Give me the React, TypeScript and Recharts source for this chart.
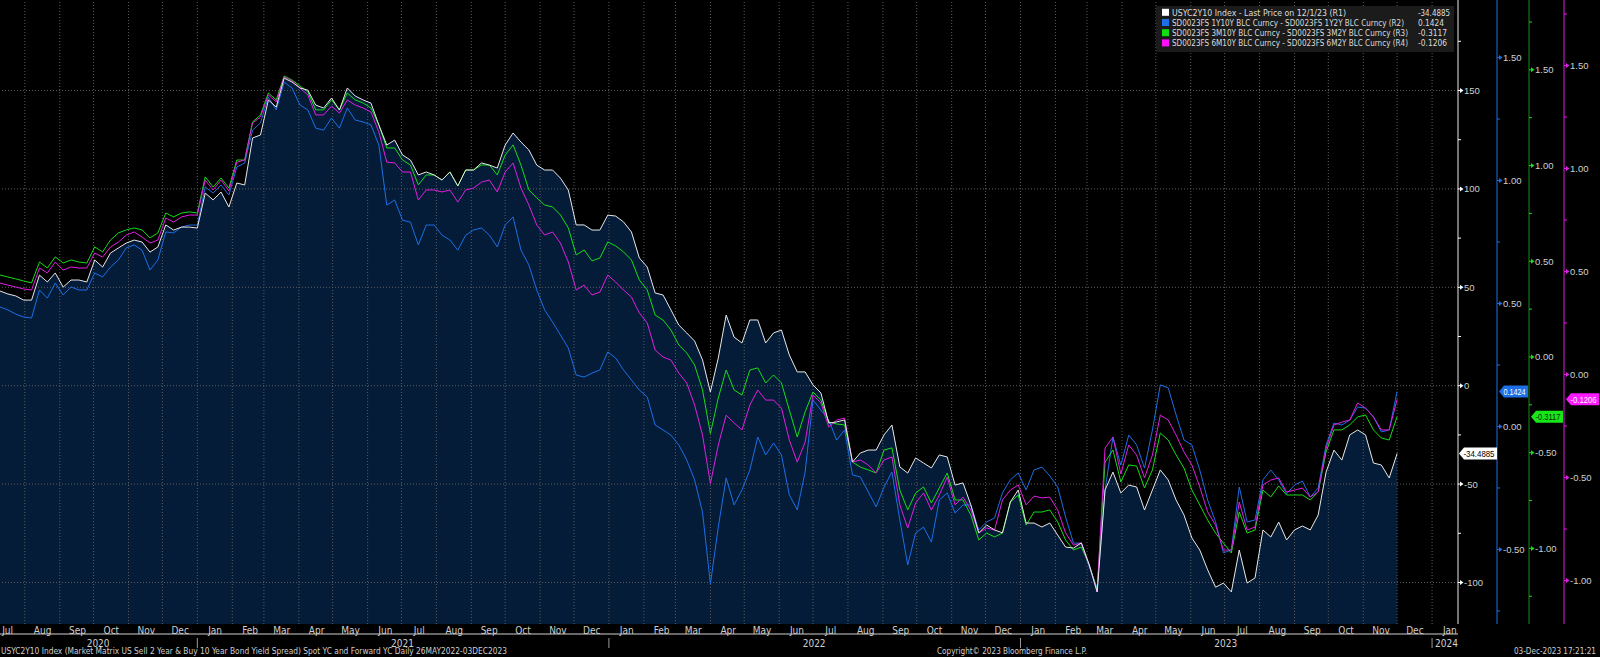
import React from 'react';
import { ComposedChart, Area, Line, XAxis, YAxis, ReferenceLine, ReferenceDot } from 'recharts';

const DAY_MS = 86400000;
const dayNum = (y: number, m: number, d: number) => Math.round(Date.UTC(y, m - 1, d) / DAY_MS);

// weekly observations, first one on 10-Jul-2020, last on 01-Dec-2023
const FIRST_DATE = dayNum(2020, 7, 10);
const STEP_DAYS = 7;
const X_MIN = dayNum(2020, 7, 10);
const X_MAX = dayNum(2024, 1, 24);

// R1: USYC2Y10 Index (bp)
const USYC2Y10 = [
  48.1, 46.6, 45.6, 43.5, 43.5, 56.2, 52.7, 57.3, 50.1, 53.7,
  53.7, 52.7, 63.9, 60.3, 67.4, 70.0, 72.5, 74.0, 73.0, 67.9,
  70.5, 81.7, 79.1, 80.6, 80.6, 80.1, 97.9, 94.4, 98.4, 90.8,
  103.0, 102.0, 125.9, 127.4, 145.2, 141.6, 156.3, 154.3, 151.3, 150.2,
  142.6, 141.1, 146.2, 140.1, 151.3, 147.2, 145.2, 143.6, 132.5, 122.3,
  124.8, 117.2, 114.7, 107.1, 108.6, 107.1, 104.5, 108.6, 101.5, 109.6,
  109.6, 113.2, 112.1, 110.6, 122.3, 128.4, 123.8, 119.8, 112.1, 109.6,
  109.6, 105.5, 99.4, 81.7, 81.7, 79.1, 79.1, 86.7, 86.2, 83.2,
  78.1, 64.9, 60.3, 47.1, 46.1, 38.5, 30.8, 26.8, 22.7, 13.1,
  -3.2, 14.1, 35.9, 24.7, 21.7, 33.4, 33.4, 21.7, 26.8, 28.3,
  15.6, 7.0, 7.0, 0.4, -3.7, -19.0, -18.4, -17.4, -38.8, -34.2,
  -32.7, -32.7, -25.0, -20.0, -41.3, -44.4, -36.7, -39.3, -41.8, -35.2,
  -36.2, -50.5, -49.4, -60.6, -74.8, -70.8, -73.3, -74.8, -59.1, -53.0,
  -69.8, -69.8, -71.8, -69.8, -75.9, -82.0, -82.5, -79.9, -91.1, -104.8,
  -53.0, -43.9, -54.5, -50.5, -51.5, -63.2, -53.0, -42.8, -47.9, -58.1,
  -65.7, -77.4, -83.5, -93.6, -102.4, -100.3, -104.8, -83.5, -100.3, -97.7,
  -73.3, -76.9, -69.3, -78.4, -73.3, -71.3, -73.3, -65.7, -43.9, -32.7,
  -37.8, -25.0, -22.5, -25.0, -39.3, -40.3, -46.9, -34.4885,
];

// R2: 1Y forward 2s10s (%)
const FWD_1Y = [
  0.486, 0.474, 0.457, 0.445, 0.441, 0.555, 0.522, 0.583, 0.535, 0.567,
  0.555, 0.555, 0.624, 0.608, 0.648, 0.677, 0.726, 0.738, 0.717, 0.636,
  0.677, 0.791, 0.787, 0.811, 0.819, 0.819, 0.974, 0.949, 0.982, 0.941,
  1.055, 1.071, 1.205, 1.234, 1.339, 1.287, 1.400, 1.376, 1.307, 1.287,
  1.213, 1.205, 1.254, 1.213, 1.295, 1.246, 1.238, 1.226, 1.144, 0.900,
  0.921, 0.839, 0.831, 0.738, 0.819, 0.819, 0.778, 0.758, 0.717, 0.778,
  0.799, 0.807, 0.778, 0.730, 0.819, 0.852, 0.717, 0.657, 0.555, 0.474,
  0.425, 0.372, 0.319, 0.209, 0.201, 0.217, 0.230, 0.303, 0.278, 0.230,
  0.189, 0.148, 0.120, 0.006, -0.014, -0.035, -0.075, -0.136, -0.217, -0.348,
  -0.640, -0.409, -0.209, -0.319, -0.258, -0.177, -0.043, -0.116, -0.067, -0.116,
  -0.278, -0.339, -0.185, 0.108, 0.067, 0.026, -0.055, -0.014, -0.197, -0.205,
  -0.266, -0.327, -0.246, -0.185, -0.380, -0.563, -0.433, -0.409, -0.470, -0.299,
  -0.270, -0.352, -0.319, -0.319, -0.421, -0.388, -0.372, -0.270, -0.217, -0.189,
  -0.258, -0.177, -0.165, -0.201, -0.246, -0.368, -0.474, -0.474, -0.571, -0.656,
  -0.258, -0.043, -0.157, -0.035, -0.075, -0.169, -0.014, 0.169, 0.157, 0.047,
  -0.055, -0.075, -0.177, -0.299, -0.388, -0.514, -0.502, -0.246, -0.388, -0.380,
  -0.217, -0.177, -0.217, -0.274, -0.238, -0.222, -0.287, -0.250, -0.075, 0.014,
  0.006, 0.026, 0.079, 0.075, 0.039, -0.022, -0.014, 0.1424,
];

// R3: 3M forward 2s10s (%)
const FWD_3M = [
  0.428, 0.418, 0.408, 0.397, 0.387, 0.496, 0.465, 0.523, 0.491, 0.507,
  0.496, 0.491, 0.575, 0.549, 0.611, 0.648, 0.664, 0.674, 0.664, 0.622,
  0.648, 0.752, 0.732, 0.752, 0.758, 0.752, 0.941, 0.888, 0.935, 0.883,
  1.029, 1.029, 1.228, 1.264, 1.379, 1.343, 1.468, 1.447, 1.416, 1.385,
  1.291, 1.291, 1.343, 1.291, 1.379, 1.343, 1.327, 1.301, 1.212, 1.092,
  1.092, 1.029, 1.003, 0.899, 0.951, 0.951, 0.925, 0.967, 0.893, 0.977,
  0.977, 1.003, 1.003, 0.951, 1.055, 1.108, 1.003, 0.873, 0.831, 0.794,
  0.784, 0.742, 0.674, 0.533, 0.559, 0.502, 0.517, 0.601, 0.580, 0.549,
  0.507, 0.402, 0.350, 0.219, 0.193, 0.141, 0.063, 0.021, -0.042, -0.172,
  -0.400, -0.214, -0.068, -0.172, -0.199, -0.068, -0.057, -0.136, -0.094, -0.136,
  -0.277, -0.418, -0.287, -0.183, -0.225, -0.340, -0.350, -0.355, -0.549, -0.575,
  -0.590, -0.606, -0.486, -0.475, -0.695, -0.799, -0.711, -0.679, -0.763, -0.684,
  -0.606, -0.747, -0.747, -0.826, -0.956, -0.920, -0.940, -0.920, -0.758, -0.721,
  -0.878, -0.810, -0.810, -0.799, -0.862, -0.956, -1.008, -0.993, -1.087, -1.217,
  -0.549, -0.486, -0.653, -0.564, -0.570, -0.684, -0.590, -0.397, -0.434, -0.512,
  -0.580, -0.695, -0.773, -0.852, -0.920, -0.972, -1.024, -0.810, -0.920, -0.904,
  -0.695, -0.731, -0.674, -0.721, -0.721, -0.721, -0.747, -0.705, -0.496, -0.381,
  -0.381, -0.355, -0.313, -0.303, -0.381, -0.423, -0.434, -0.3117,
];

// R4: 6M forward 2s10s (%)
const FWD_6M = [
  0.444, 0.434, 0.425, 0.415, 0.410, 0.517, 0.493, 0.546, 0.507, 0.522,
  0.517, 0.517, 0.590, 0.570, 0.619, 0.643, 0.677, 0.692, 0.667, 0.638,
  0.653, 0.760, 0.740, 0.765, 0.774, 0.774, 0.944, 0.896, 0.944, 0.891,
  1.031, 1.041, 1.221, 1.250, 1.357, 1.323, 1.444, 1.425, 1.391, 1.357,
  1.260, 1.260, 1.303, 1.269, 1.333, 1.308, 1.294, 1.274, 1.177, 1.031,
  1.027, 0.983, 0.983, 0.847, 0.896, 0.896, 0.886, 0.896, 0.837, 0.896,
  0.905, 0.934, 0.944, 0.886, 0.983, 1.027, 0.905, 0.823, 0.726, 0.677,
  0.692, 0.638, 0.546, 0.410, 0.434, 0.386, 0.400, 0.483, 0.449, 0.410,
  0.376, 0.299, 0.250, 0.119, 0.085, 0.070, 0.007, -0.041, -0.148, -0.294,
  -0.530, -0.342, -0.197, -0.235, -0.269, -0.148, -0.075, -0.124, -0.124, -0.163,
  -0.318, -0.425, -0.328, -0.100, -0.138, -0.255, -0.221, -0.211, -0.425, -0.415,
  -0.439, -0.478, -0.415, -0.400, -0.633, -0.745, -0.624, -0.575, -0.658, -0.585,
  -0.498, -0.633, -0.595, -0.658, -0.769, -0.745, -0.755, -0.609, -0.561, -0.536,
  -0.633, -0.590, -0.599, -0.595, -0.658, -0.769, -0.828, -0.818, -0.925, -1.056,
  -0.357, -0.303, -0.483, -0.342, -0.391, -0.502, -0.391, -0.197, -0.221, -0.294,
  -0.376, -0.439, -0.546, -0.667, -0.731, -0.852, -0.852, -0.619, -0.755, -0.740,
  -0.536, -0.512, -0.502, -0.570, -0.561, -0.551, -0.595, -0.570, -0.357, -0.245,
  -0.231, -0.221, -0.138, -0.163, -0.206, -0.269, -0.269, -0.1206,
];

const SERIES_NAMES = [
  'USYC2Y10 Index - Last Price on 12/1/23 (R1)',
  'SD0023FS 1Y10Y BLC Curncy - SD0023FS 1Y2Y BLC Curncy (R2)',
  'SD0023FS 3M10Y BLC Curncy - SD0023FS 3M2Y BLC Curncy (R3)',
  'SD0023FS 6M10Y BLC Curncy - SD0023FS 6M2Y BLC Curncy (R4)',
];

const MONTH_NAMES = ['Jan', 'Feb', 'Mar', 'Apr', 'May', 'Jun', 'Jul', 'Aug', 'Sep', 'Oct', 'Nov', 'Dec'];
const YEAR_LABELS = ['2020', '2021', '2022', '2023', '2024'];
const YEAR_LABEL_AT = [dayNum(2020, 10, 5), dayNum(2021, 7, 2), dayNum(2022, 7, 2), dayNum(2023, 7, 2), dayNum(2024, 1, 1)];
const YEAR_SEPS = [dayNum(2021, 1, 1), dayNum(2022, 1, 1), dayNum(2023, 1, 1), dayNum(2024, 1, 1)];

const R1_TICKS = [-100, -75, -50, -25, 0, 25, 50, 75, 100, 125, 150, 175];
const R1_GRID = [-100, -50, 0, 50, 100, 150];
const R2_TICKS = [-0.75, -0.5, -0.25, 0, 0.25, 0.5, 0.75, 1, 1.25, 1.5];
const R3_TICKS = [-1.25, -1, -0.75, -0.5, -0.25, 0, 0.25, 0.5, 0.75, 1, 1.25, 1.5, 1.75];
const R4_TICKS = [-1, -0.75, -0.5, -0.25, 0, 0.25, 0.5, 0.75, 1, 1.25, 1.5, 1.75];

const FOOTER_LEFT = 'USYC2Y10 Index (Market Matrix US Sell 2 Year & Buy 10 Year Bond Yield Spread) Spot YC and Forward YC  Daily 26MAY2022-03DEC2023';
const FOOTER_MID = 'Copyright\u00a9 2023 Bloomberg Finance L.P.';
const FOOTER_RIGHT = '03-Dec-2023 17:21:21';

// ---- derived tables ----
const data = USYC2Y10.map((w, i) => ({
  t: FIRST_DATE + i * STEP_DAYS,
  w,
  b: FWD_1Y[i],
  g: FWD_3M[i],
  m: FWD_6M[i],
}));

const MONTH_STARTS: number[] = [];
const MONTH_MIDS: number[] = [];
const MONTH_LABEL: Record<number, string> = {};
for (let k = 0; k < 43; k++) {
  const y = 2020 + Math.floor((6 + k) / 12);
  const m = (6 + k) % 12;
  const mid = dayNum(y, m + 1, 15);
  MONTH_MIDS.push(mid);
  MONTH_LABEL[mid] = MONTH_NAMES[m];
  if (k > 0) MONTH_STARTS.push(dayNum(y, m + 1, 1));
}
const YEAR_TICKS = Array.from(new Set([...YEAR_LABEL_AT, ...YEAR_SEPS])).sort((a, b) => a - b);

const C_WHITE = '#e8e8e8';
const C_BLUE = '#1c6fe6';
const C_GREEN = '#16dc16';
const C_GREEN_AXIS = '#178a17';
const C_MAGENTA = '#e21ee2';
const C_FILL = '#041c38';
const C_GRID = '#5c5c5c';
const C_TEXT = '#cfcfcf';
const FONT = "'Liberation Sans', Arial, sans-serif";
const NARROW = "'Liberation Sans Narrow', 'DejaVu Sans Condensed', 'Liberation Sans', Arial, sans-serif";

const MonthTick = (p: any) => {
  const label = MONTH_LABEL[p.payload.value];
  return (
    <text x={p.x + 2} y={p.y + 10} textAnchor="middle" fill={C_TEXT} fontSize={10} fontFamily={NARROW}>
      {label}
    </text>
  );
};

const YearTick = (p: any) => {
  const v = p.payload.value;
  const isSep = YEAR_SEPS.includes(v);
  const li = YEAR_LABEL_AT.indexOf(v);
  return (
    <g>
      {isSep && <line x1={p.x} x2={p.x} y1={p.y + 1} y2={p.y + 11} stroke="#9a9a9a" />}
      {li >= 0 && (
        <text
          x={isSep ? p.x + 3 : p.x}
          y={p.y + 10}
          textAnchor={isSep ? 'start' : 'middle'}
          fill={C_TEXT}
          fontSize={10}
          fontFamily={NARROW}
        >
          {YEAR_LABELS[li]}
        </text>
      )}
    </g>
  );
};

function makeYTick(color: string, major: number, decimals: number) {
  return (p: any) => {
    const { x, y } = p;
    const v = p.payload.value;
    const isMajor = Math.abs(v / major - Math.round(v / major)) < 1e-6;
    if (!isMajor) return <line x1={x} x2={x + 3} y1={y} y2={y} stroke={color} />;
    return (
      <g>
        <line x1={x} x2={x + 3} y1={y} y2={y} stroke={color} />
        <path d={`M${x + 2} ${y - 2.5}L${x + 5.5} ${y}L${x + 2} ${y + 2.5}Z`} fill={color} />
        <text x={x + 6} y={y + 3.5} fill={C_TEXT} fontSize={9.5} fontFamily={FONT}>
          {v.toFixed(decimals)}
        </text>
      </g>
    );
  };
}

function makeBadge(dx: number, w: number, bg: string, fg: string, text: string) {
  return (p: any) => {
    const x0 = p.cx + dx;
    const cy = p.cy;
    return (
      <g>
        <path
          d={`M${x0} ${cy}L${x0 + 5} ${cy - 6}L${x0 + w} ${cy - 6}L${x0 + w} ${cy + 6}L${x0 + 5} ${cy + 6}Z`}
          fill={bg}
        />
        <text
          x={x0 + w - 2.5}
          y={cy + 3.6}
          textAnchor="end"
          fill={fg}
          fontSize={9.5}
          fontFamily={FONT}
          textLength={w - 7}
          lengthAdjust="spacingAndGlyphs"
        >
          {text}
        </text>
      </g>
    );
  };
}

const last = (a: number[]) => a[a.length - 1];

const LEGEND_COLORS = ['#ffffff', C_BLUE, '#10e010', '#ff10ff'];
const LEGEND_VALUES = [USYC2Y10, FWD_1Y, FWD_3M, FWD_6M].map((a) => last(a).toFixed(4));
const LEGEND_TEXT_LEN = [174, 232, 236, 236];
const LEGEND_VALUE_LEN = [32, 26, 29, 29];

export default function App() {
  return (
    <div style={{ position: 'relative', width: 1600, height: 657, background: '#000', overflow: 'hidden' }}>
      <style>{'body{margin:0;background:#000;}'}</style>
      <ComposedChart
        width={1600}
        height={657}
        data={data}
        margin={{ top: 0, right: 0, left: 0, bottom: 10 }}
      >
        <XAxis
          xAxisId="main"
          dataKey="t"
          type="number"
          domain={[X_MIN, X_MAX]}
          allowDataOverflow
          ticks={MONTH_STARTS}
          interval={0}
          tick={false}
          tickSize={3}
          tickLine={{ stroke: '#a0a0a0' }}
          axisLine={{ stroke: '#d0d0d0' }}
          height={3}
        />
        <XAxis
          xAxisId="lbl"
          dataKey="t"
          type="number"
          domain={[X_MIN, X_MAX]}
          allowDataOverflow
          ticks={MONTH_MIDS}
          interval={0}
          tick={MonthTick}
          tickSize={0}
          tickMargin={0}
          tickLine={false}
          axisLine={false}
          height={10}
        />
        <XAxis
          xAxisId="yr"
          dataKey="t"
          type="number"
          domain={[X_MIN, X_MAX]}
          allowDataOverflow
          ticks={YEAR_TICKS}
          interval={0}
          tick={YearTick}
          tickSize={0}
          tickMargin={0}
          tickLine={false}
          axisLine={false}
          height={10}
        />
        <YAxis
          yAxisId="r1"
          orientation="right"
          type="number"
          domain={[-121.1, 196]}
          allowDataOverflow
          ticks={R1_TICKS}
          interval={0}
          width={39}
          tickSize={0}
          tickMargin={0}
          tickLine={false}
          axisLine={{ stroke: C_WHITE }}
          tick={makeYTick('#ffffff', 50, 0)}
        />
        <YAxis
          yAxisId="r2"
          orientation="right"
          type="number"
          domain={[-0.803, 1.734]}
          allowDataOverflow
          ticks={R2_TICKS}
          interval={0}
          width={32}
          tickSize={0}
          tickMargin={0}
          tickLine={false}
          axisLine={{ stroke: C_BLUE }}
          tick={makeYTick(C_BLUE, 0.5, 2)}
        />
        <YAxis
          yAxisId="r3"
          orientation="right"
          type="number"
          domain={[-1.395, 1.865]}
          allowDataOverflow
          ticks={R3_TICKS}
          interval={0}
          width={35}
          tickSize={0}
          tickMargin={0}
          tickLine={false}
          axisLine={{ stroke: C_GREEN_AXIS }}
          tick={makeYTick(C_GREEN, 0.5, 2)}
        />
        <YAxis
          yAxisId="r4"
          orientation="right"
          type="number"
          domain={[-1.211, 1.818]}
          allowDataOverflow
          ticks={R4_TICKS}
          interval={0}
          width={36}
          tickSize={0}
          tickMargin={0}
          tickLine={false}
          axisLine={{ stroke: C_MAGENTA }}
          tick={makeYTick(C_MAGENTA, 0.5, 2)}
        />

        <Area
          xAxisId="main"
          yAxisId="r1"
          dataKey="w"
          type="linear"
          stroke="none"
          fill={C_FILL}
          fillOpacity={1}
          baseValue="dataMin"
          dot={false}
          activeDot={false}
          isAnimationActive={false}
        />

        {MONTH_STARTS.map((t) => (
          <ReferenceLine
            key={'vx' + t}
            xAxisId="main"
            yAxisId="r1"
            x={t}
            stroke={C_GRID}
            strokeDasharray="1 2"
          />
        ))}
        {R1_GRID.map((v) => (
          <ReferenceLine
            key={'hy' + v}
            xAxisId="main"
            yAxisId="r1"
            y={v}
            stroke={C_GRID}
            strokeDasharray="1 2"
          />
        ))}

        <Line xAxisId="main" yAxisId="r2" dataKey="b" type="linear" stroke={C_BLUE} strokeWidth={1} dot={false} activeDot={false} isAnimationActive={false} />
        <Line xAxisId="main" yAxisId="r3" dataKey="g" type="linear" stroke={C_GREEN} strokeWidth={1} dot={false} activeDot={false} isAnimationActive={false} />
        <Line xAxisId="main" yAxisId="r4" dataKey="m" type="linear" stroke={C_MAGENTA} strokeWidth={1} dot={false} activeDot={false} isAnimationActive={false} />
        <Line xAxisId="main" yAxisId="r1" dataKey="w" type="linear" stroke={C_WHITE} strokeWidth={1} dot={false} activeDot={false} isAnimationActive={false} />

        <ReferenceDot xAxisId="main" yAxisId="r1" x={X_MAX} y={last(USYC2Y10)} r={0} ifOverflow="visible"
          shape={makeBadge(1, 38, '#ffffff', '#000000', LEGEND_VALUES[0])} />
        <ReferenceDot xAxisId="main" yAxisId="r2" x={X_MAX} y={last(FWD_1Y)} r={0} ifOverflow="visible"
          shape={makeBadge(41, 29, C_BLUE, '#ffffff', LEGEND_VALUES[1])} />
        <ReferenceDot xAxisId="main" yAxisId="r3" x={X_MAX} y={last(FWD_3M)} r={0} ifOverflow="visible"
          shape={makeBadge(73, 32, '#19e619', '#0a2a0a', LEGEND_VALUES[2])} />
        <ReferenceDot xAxisId="main" yAxisId="r4" x={X_MAX} y={last(FWD_6M)} r={0} ifOverflow="visible"
          shape={makeBadge(108, 33, '#ff19ff', '#ffffff', LEGEND_VALUES[3])} />
      </ComposedChart>

      <svg width={1600} height={657} style={{ position: 'absolute', left: 0, top: 0, pointerEvents: 'none' }}>
        <rect x={1156} y={6} width={298} height={46} fill="#1b1b1b" />
        {SERIES_NAMES.map((name, i) => (
          <g key={name}>
            <rect x={1162} y={8.8 + i * 10.2} width={7} height={7} fill={LEGEND_COLORS[i]} />
            <text
              x={1172}
              y={15.8 + i * 10.2}
              fontSize={8.6}
              fill="#dcdcdc"
              fontFamily="'DejaVu Sans', sans-serif"
            >
              <tspan textLength={LEGEND_TEXT_LEN[i]} lengthAdjust="spacingAndGlyphs">
                {name}
              </tspan>
              <tspan
                x={i === 0 ? 1450 - LEGEND_VALUE_LEN[i] : 1418}
                textLength={LEGEND_VALUE_LEN[i]}
                lengthAdjust="spacingAndGlyphs"
              >
                {LEGEND_VALUES[i]}
              </tspan>
            </text>
          </g>
        ))}
        <text x={1} y={654} fontSize={9.5} fill={C_TEXT} fontFamily={NARROW} textLength={506} lengthAdjust="spacingAndGlyphs">
          {FOOTER_LEFT}
        </text>
        <text x={937} y={654} fontSize={9.5} fill={C_TEXT} fontFamily={NARROW} textLength={150} lengthAdjust="spacingAndGlyphs">
          {FOOTER_MID}
        </text>
        <text x={1596} y={654} textAnchor="end" fontSize={9.5} fill={C_TEXT} fontFamily={NARROW} textLength={82} lengthAdjust="spacingAndGlyphs">
          {FOOTER_RIGHT}
        </text>
      </svg>
    </div>
  );
}
